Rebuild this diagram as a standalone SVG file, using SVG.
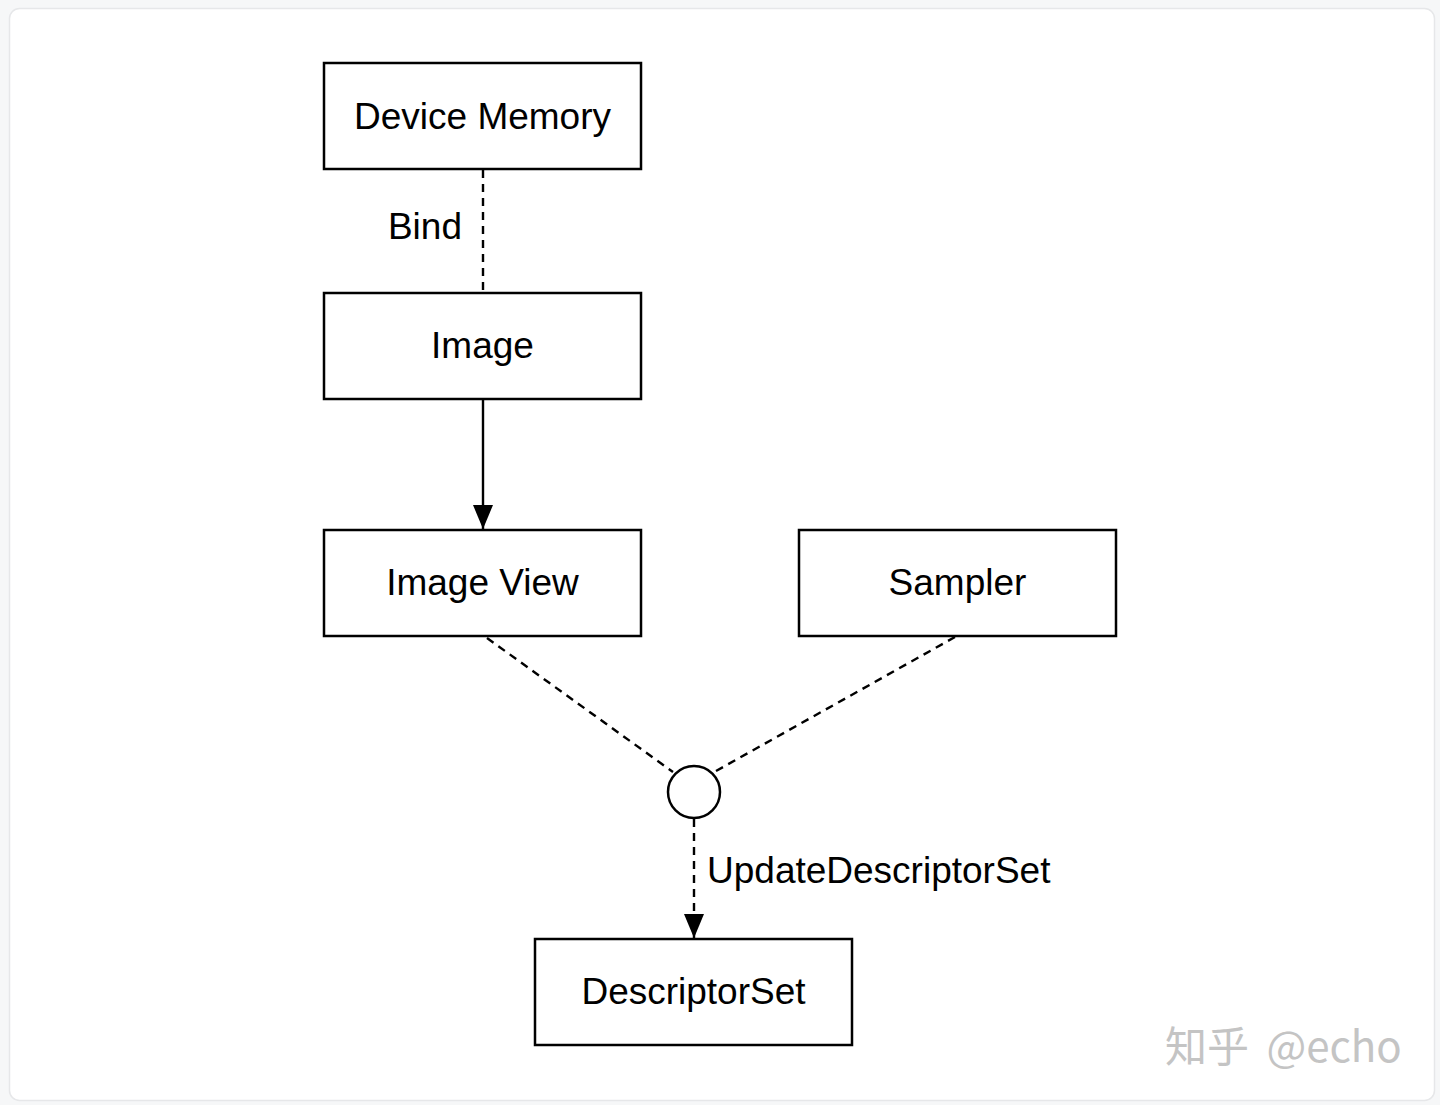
<svg xmlns="http://www.w3.org/2000/svg" width="1440" height="1105" viewBox="0 0 1440 1105">
<defs>
<style>
.box{fill:#fff;stroke:#000;stroke-width:2.5}
.lbl{font-family:"Liberation Sans",Arial,sans-serif;font-size:37px;fill:#000}
.dash{fill:none;stroke:#000;stroke-width:2.4;stroke-dasharray:8 6}
.solid{fill:none;stroke:#000;stroke-width:2.4}
</style>
<marker id="arrB" viewBox="0 0 24 24" refX="24" refY="12" markerWidth="24" markerHeight="24" markerUnits="userSpaceOnUse" orient="auto">
<path d="M0,2 L24,12 L0,22 Z" fill="#000"/>
</marker>
</defs>
<rect x="0" y="0" width="1440" height="1105" fill="#f6f7f8"/>
<rect x="9.5" y="8.5" width="1425" height="1092" rx="10" fill="#fff" stroke="#e6e7e9" stroke-width="1.5"/>
<g id="connectors">
<line class="dash" x1="483" y1="170" x2="483" y2="293"/>
<text class="lbl" x="462" y="239" text-anchor="end">Bind</text>
<line class="solid" x1="483" y1="400" x2="483" y2="529" marker-end="url(#arrB)"/>
<line class="dash" x1="487" y1="638" x2="673" y2="772"/>
<line class="dash" x1="955" y1="637" x2="716" y2="771"/>
<line class="dash" x1="694" y1="819" x2="694" y2="938" marker-end="url(#arrB)"/>
<text class="lbl" x="707" y="883">UpdateDescriptorSet</text>
</g>
<g id="node-device-memory">
<rect class="box" x="324" y="63" width="317" height="106"/>
<text class="lbl" x="482.5" y="129" text-anchor="middle">Device Memory</text>
</g>
<g id="node-image">
<rect class="box" x="324" y="293" width="317" height="106"/>
<text class="lbl" x="482.5" y="358" text-anchor="middle">Image</text>
</g>
<g id="node-image-view">
<rect class="box" x="324" y="530" width="317" height="106"/>
<text class="lbl" x="482.5" y="595" text-anchor="middle">Image View</text>
</g>
<g id="node-sampler">
<rect class="box" x="799" y="530" width="317" height="106"/>
<text class="lbl" x="957.5" y="595" text-anchor="middle">Sampler</text>
</g>
<g id="node-junction">
<circle class="box" cx="694" cy="792" r="26"/>
</g>
<g id="node-descriptor-set">
<rect class="box" x="535" y="939" width="317" height="106"/>
<text class="lbl" x="693.5" y="1004" text-anchor="middle">DescriptorSet</text>
</g>
<text x="1165" y="1062" font-family="'Noto Sans CJK SC','Liberation Sans',sans-serif" font-size="42" fill="#c4c4c4" word-spacing="8">知乎 @echo</text>
</svg>
